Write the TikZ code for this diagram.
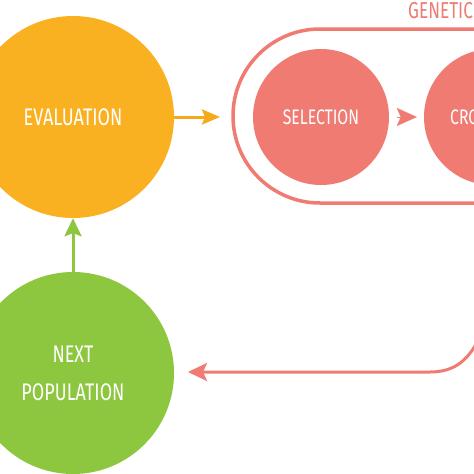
\documentclass[tikz,border=0pt]{standalone}
\usepackage{fontspec}
\setmainfont{Fira Sans}[FakeStretch=0.75]
\usetikzlibrary{arrows.meta}
\definecolor{orng}{HTML}{F9B122}
\definecolor{orngdark}{HTML}{F6A91B}
\definecolor{grn}{HTML}{8DC63F}
\definecolor{salmon}{HTML}{F07B72}
\tikzset{
  bigcirc/.style={circle, minimum size=202pt, inner sep=0pt, text=white, align=center, font=\fontsize{24}{38}\selectfont},
  opcirc/.style={circle, minimum size=136pt, inner sep=0pt, fill=salmon, text=white, font=\fontsize{21}{24}\selectfont},
  conn/.style={line width=3pt},
}
\begin{document}
\begin{tikzpicture}[x=1pt,y=-1pt]
\useasboundingbox (0,0) rectangle (474,474);
\clip (0,0) rectangle (474,474);
\fill[white] (0,0) rectangle (474,474);
% genetic operators frame
\draw[salmon, line width=3.5pt, rounded corners=87pt] (233,29) rectangle (700,203);
\node[anchor=base west, text=salmon, font=\fontsize{23}{26}\selectfont, inner sep=0pt] (gen) at (408,18) {GENETIC OPERATORS};
% nodes
\node[bigcirc, fill=orng] (eval) at (73,117) {EVALUATION};
\node[bigcirc, fill=grn] (next) at (73,373) {NEXT\\POPULATION};
\node[opcirc] (sel) at (321,117) {SELECTION};
\node[opcirc] (cross) at (492,117) {CROSSOVER};
\coordinate (retin) at (482,332);
% connectors
\draw[conn, orngdark, -{Stealth[length=18pt,width=15pt,inset=3pt]}] (eval.east) -- (220,117) coordinate (evalend);
\draw[conn, grn, -{Stealth[length=18pt,width=17pt,inset=3pt]}] (next.north) -- (eval.south);
\draw[salmon, line width=0.1pt, -{Stealth[length=20pt,width=18pt,inset=4pt]}, shorten <=8pt, shorten >=7pt] (sel) -- (cross);
\draw[conn, salmon, -{Stealth[length=19pt,width=18pt,inset=4pt]}] (retin) .. controls (470,360) and (455,372) .. (430,372) -- (188,372) coordinate (retend);
\end{tikzpicture}
\end{document}
